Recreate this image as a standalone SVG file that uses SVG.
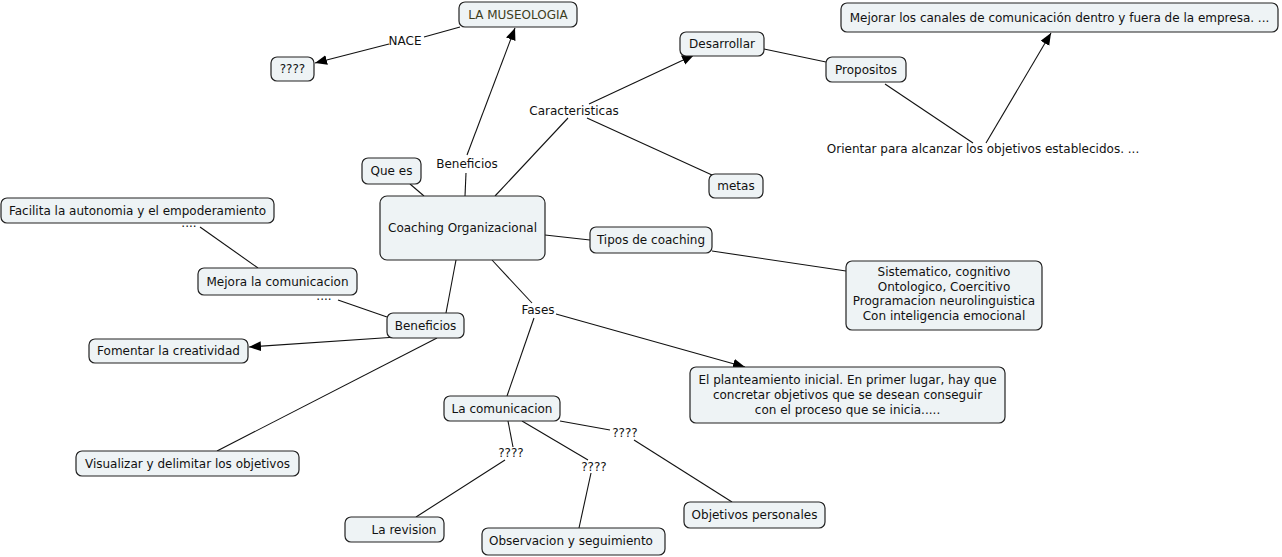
<svg xmlns="http://www.w3.org/2000/svg" width="1282" height="557" viewBox="0 0 1282 557">
<style>
.n rect{fill:#eef3f5;stroke:#222;stroke-width:1.2}
text{font-family:"DejaVu Sans",Verdana,sans-serif;font-size:12px;fill:#111;text-anchor:middle}
.c line{stroke:#111;stroke-width:1.1;fill:none}
.a{marker-end:url(#ah)}
</style>
<defs>
<marker id="ah" markerUnits="userSpaceOnUse" markerWidth="13" markerHeight="11" refX="12" refY="5" orient="auto">
<path d="M0,0 L12,5 L0,10 z" fill="#000"/>
</marker>
</defs>
<rect width="1282" height="557" fill="#fff"/>
<g id="connectors" class="c">
<line x1="460" y1="27" x2="424" y2="37"/>
<line class="a" x1="389" y1="44" x2="315" y2="63"/>
<line x1="465" y1="196" x2="466" y2="173"/>
<line class="a" x1="467" y1="155" x2="515" y2="28"/>
<line x1="410" y1="184" x2="424" y2="196"/>
<line x1="495" y1="196" x2="568" y2="118"/>
<line class="a" x1="589" y1="104" x2="694" y2="55"/>
<line x1="587" y1="118" x2="712" y2="175"/>
<line x1="764" y1="49" x2="826" y2="62"/>
<line x1="885" y1="84" x2="973" y2="143"/>
<line class="a" x1="986" y1="143" x2="1051" y2="33"/>
<line x1="545" y1="235" x2="590" y2="240"/>
<line x1="712" y1="251" x2="846" y2="271"/>
<line x1="492" y1="260" x2="532" y2="303"/>
<line class="a" x1="556" y1="314" x2="745" y2="367"/>
<line x1="534" y1="318" x2="507" y2="396"/>
<line x1="456" y1="260" x2="446" y2="313"/>
<line x1="387" y1="317" x2="338" y2="300"/>
<line x1="258" y1="268" x2="200" y2="227"/>
<line class="a" x1="397" y1="337" x2="249" y2="347"/>
<line x1="437" y1="338" x2="217" y2="451"/>
<line x1="508" y1="421" x2="513" y2="447"/>
<line x1="505" y1="460" x2="416" y2="517"/>
<line x1="522" y1="421" x2="588" y2="460"/>
<line x1="591" y1="473" x2="579" y2="528"/>
<line x1="560" y1="421" x2="610" y2="430"/>
<line x1="634" y1="440" x2="732" y2="502"/>
</g>
<g id="labels">
<text x="405" y="45">NACE</text>
<text x="467" y="168">Beneficios</text>
<text x="574" y="115">Caracteristicas</text>
<text x="538" y="314">Fases</text>
<text x="511" y="457">????</text>
<text x="594" y="471">????</text>
<text x="625" y="437">????</text>
<text x="983" y="153">Orientar para alcanzar los objetivos establecidos. ...</text>
<text x="189" y="227">....</text>
<text x="324" y="300">....</text>
</g>
<g id="n-museologia" class="n"><rect x="459" y="2" width="118" height="25" rx="6"/><text x="518" y="19" style="fill:#3d3d1c">LA MUSEOLOGIA</text></g>
<g id="n-q1" class="n"><rect x="271" y="57" width="43" height="24" rx="6"/><text x="292.5" y="73">????</text></g>
<g id="n-desarrollar" class="n"><rect x="680" y="32" width="84" height="24" rx="6"/><text x="722" y="48">Desarrollar</text></g>
<g id="n-propositos" class="n"><rect x="826" y="57" width="80" height="25" rx="6"/><text x="866" y="74">Propositos</text></g>
<g id="n-mejorar" class="n"><rect x="841" y="3" width="437" height="29" rx="6"/><text x="1059.5" y="22">Mejorar los canales de comunicación dentro y fuera de la empresa. ...</text></g>
<g id="n-metas" class="n"><rect x="709" y="174" width="54" height="24" rx="6"/><text x="736" y="190">metas</text></g>
<g id="n-quees" class="n"><rect x="362" y="158" width="59" height="26" rx="6"/><text x="391.5" y="175">Que es</text></g>
<g id="n-coaching" class="n"><rect x="380" y="196" width="165" height="64" rx="7"/><text x="462.5" y="232">Coaching Organizacional</text></g>
<g id="n-tipos" class="n"><rect x="590" y="227" width="122" height="26" rx="6"/><text x="651" y="244">Tipos de coaching</text></g>
<g id="n-sistematico" class="n"><rect x="846" y="261" width="196" height="69" rx="6"/><text x="944" y="276">Sistematico, cognitivo</text><text x="944" y="291">Ontologico, Coercitivo</text><text x="944" y="305">Programacion neurolinguistica</text><text x="944" y="320">Con inteligencia emocional</text></g>
<g id="n-facilita" class="n"><rect x="1" y="198" width="273" height="25" rx="6"/><text x="137.5" y="215">Facilita la autonomia y el empoderamiento</text></g>
<g id="n-mejora" class="n"><rect x="198" y="268" width="159" height="27" rx="6"/><text x="277.5" y="286">Mejora la comunicacion</text></g>
<g id="n-beneficios" class="n"><rect x="387" y="313" width="77" height="25" rx="6"/><text x="425.5" y="330">Beneficios</text></g>
<g id="n-fomentar" class="n"><rect x="89" y="339" width="159" height="24" rx="6"/><text x="168.5" y="355">Fomentar la creatividad</text></g>
<g id="n-visualizar" class="n"><rect x="76" y="451" width="223" height="25" rx="6"/><text x="187.5" y="468">Visualizar y delimitar los objetivos</text></g>
<g id="n-lacomunicacion" class="n"><rect x="444" y="396" width="116" height="25" rx="6"/><text x="502" y="413">La comunicacion</text></g>
<g id="n-planteamiento" class="n"><rect x="690" y="367" width="315" height="56" rx="6"/><text x="847.5" y="384">El planteamiento inicial. En primer lugar, hay que</text><text x="847.5" y="399">concretar objetivos que se desean conseguir</text><text x="847.5" y="414">con el proceso que se inicia.....</text></g>
<g id="n-revision" class="n"><rect x="345" y="517" width="99" height="25" rx="6"/><text x="404" y="534">La revision</text></g>
<g id="n-observacion" class="n"><rect x="482" y="528" width="183" height="27" rx="6"/><text x="571" y="545">Observacion y seguimiento</text></g>
<g id="n-objetivos" class="n"><rect x="684" y="502" width="141" height="26" rx="6"/><text x="754.5" y="519">Objetivos personales</text></g>
</svg>
